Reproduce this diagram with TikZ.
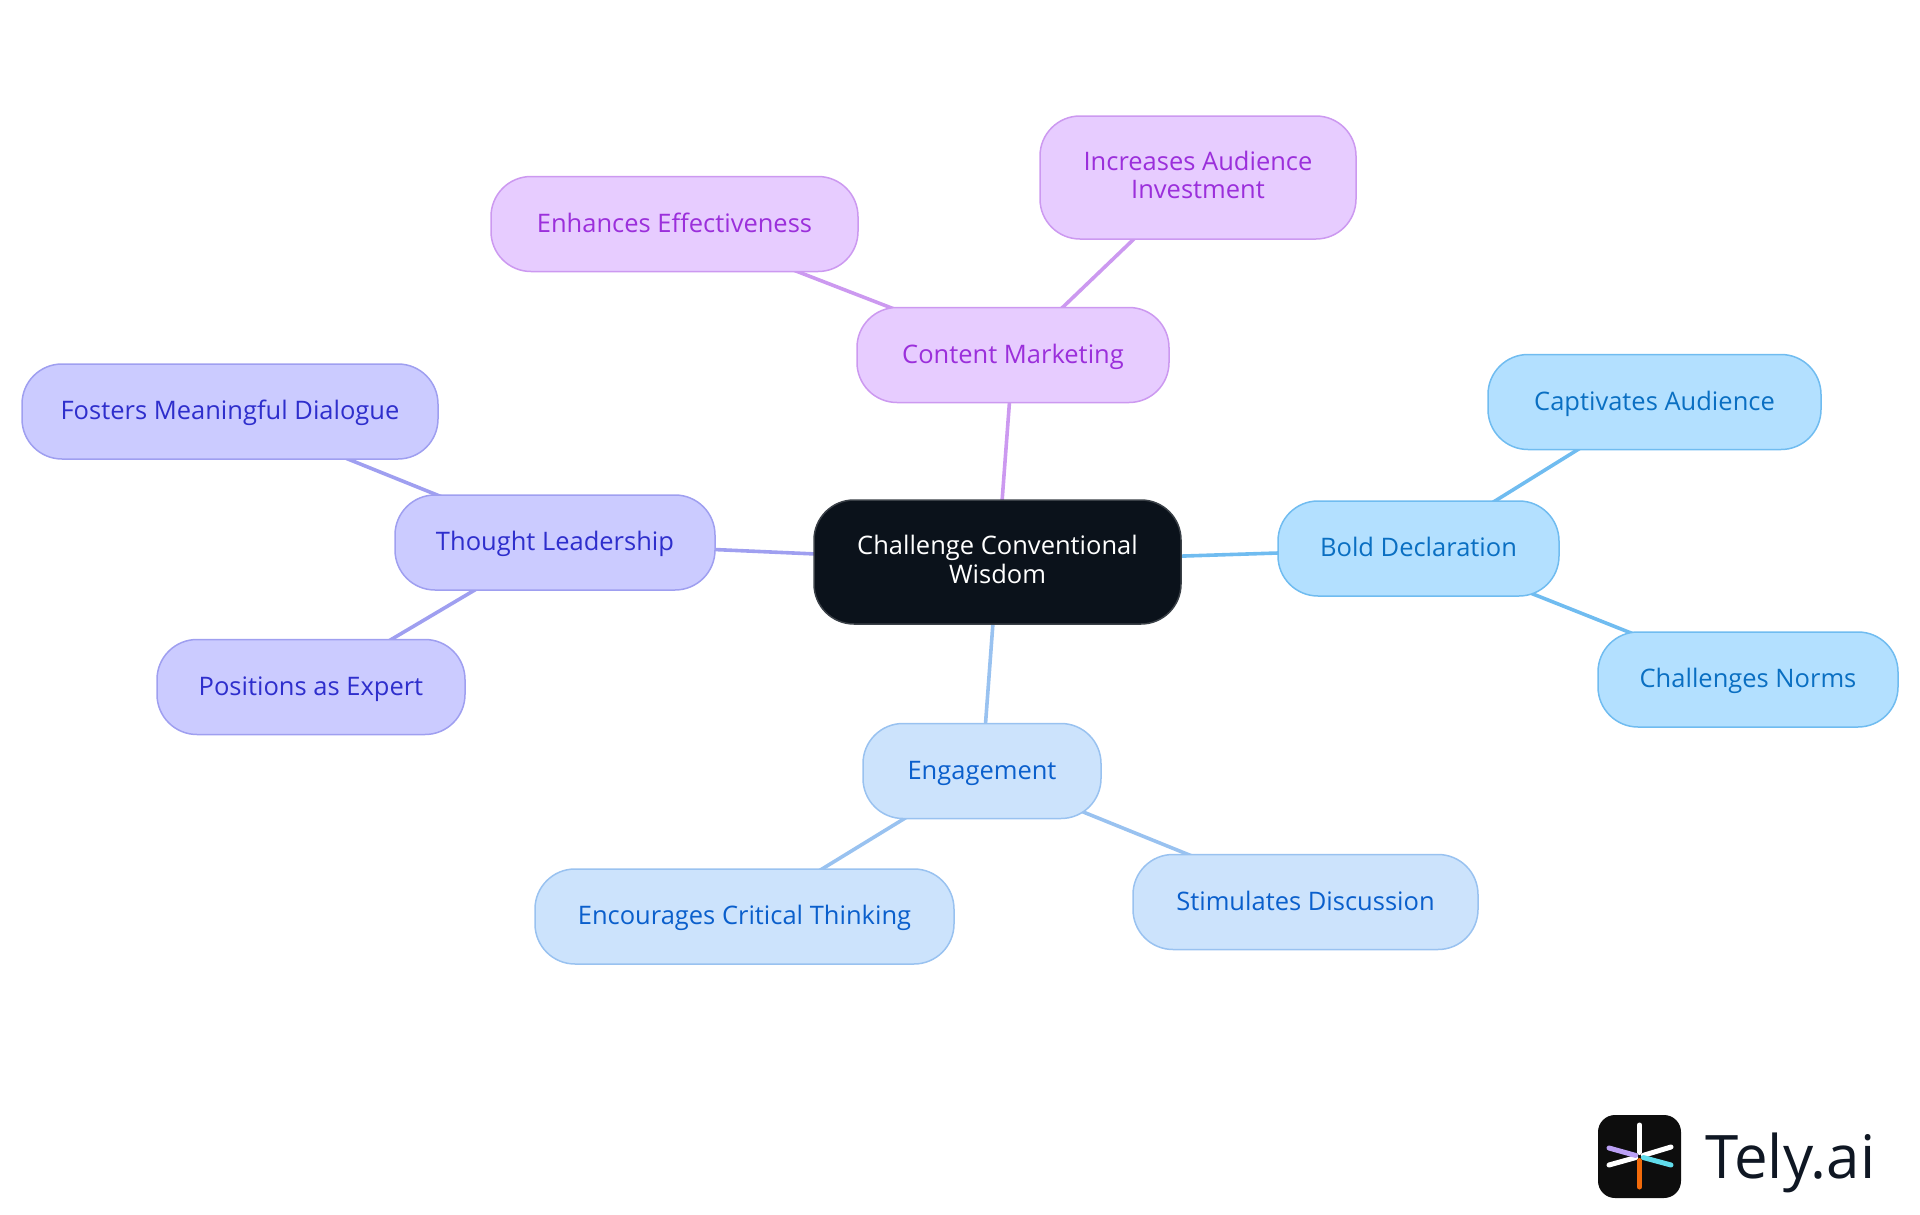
\documentclass[tikz,border=0pt]{standalone}
\usepackage{fontspec}
\setmainfont{Open Sans}
\usepackage{tikz}
\usetikzlibrary{backgrounds}

\definecolor{rootfill}{HTML}{0B121B}
\definecolor{rootline}{HTML}{3A4047}
\definecolor{plumfill}{HTML}{E7CCFF}
\definecolor{plumline}{HTML}{CC99F0}
\definecolor{plumtext}{HTML}{9B2FDB}
\definecolor{indigofill}{HTML}{CBCBFF}
\definecolor{indigoline}{HTML}{9F9FF0}
\definecolor{indigotext}{HTML}{2E2ECC}
\definecolor{skyfill}{HTML}{B3E0FF}
\definecolor{skyline}{HTML}{70BCF0}
\definecolor{skytext}{HTML}{0A6FC2}
\definecolor{bluefill}{HTML}{CCE3FC}
\definecolor{blueline}{HTML}{99C2F0}
\definecolor{bluetext}{HTML}{0A5FCC}
\definecolor{logotext}{HTML}{0F1723}
\definecolor{logoviolet}{HTML}{BBA0F5}
\definecolor{logocyan}{HTML}{60DCEB}
\definecolor{logoorange}{HTML}{F26A0A}

\begin{document}
\begin{tikzpicture}[x=1pt, y=-1pt]
\tikzstyle{idea} = [rectangle, rounded corners=40pt, line width=1.5pt, align=center, inner sep=0pt, minimum height=95pt, text height=20pt, text depth=4pt, font=\fontsize{25.5}{28.3}\selectfont]
\tikzstyle{twolines} = [text height=46pt, text depth=4pt]
\tikzstyle{root} = [idea, fill=rootfill, draw=rootline, text=white, minimum height=124pt]
\tikzstyle{plum} = [idea, fill=plumfill, draw=plumline, text=plumtext]
\tikzstyle{indigo} = [idea, fill=indigofill, draw=indigoline, text=indigotext]
\tikzstyle{sky} = [idea, fill=skyfill, draw=skyline, text=skytext]
\tikzstyle{pale} = [idea, fill=bluefill, draw=blueline, text=bluetext]
\tikzstyle{link} = [line width=3.6pt]
\useasboundingbox (0, 0) rectangle (1920, 1215);

\node [root, twolines, minimum width=367pt] (wisdom) at (997.5, 562) {Challenge Conventional\\Wisdom};

\node [plum, minimum width=312pt] (content) at (1013, 355) {Content Marketing};
\node [plum, minimum width=367pt] (enhances) at (674.5, 224) {Enhances Effectiveness};
\node [plum, twolines, minimum width=316pt, minimum height=123pt] (increases) at (1198, 177.5) {Increases Audience\\Investment};

\node [indigo, minimum width=320pt] (thought) at (555, 542.5) {Thought Leadership};
\node [indigo, minimum width=416pt] (fosters) at (230, 411.5) {Fosters Meaningful Dialogue};
\node [indigo, minimum width=308pt] (positions) at (311, 687) {Positions as Expert};

\node [sky, minimum width=281pt] (bold) at (1418.5, 548.5) {Bold Declaration};
\node [sky, minimum width=333pt] (captivates) at (1654.5, 402) {Captivates Audience};
\node [sky, minimum width=300pt] (challenges) at (1748, 679.5) {Challenges Norms};

\node [pale, minimum width=238pt] (engagement) at (982, 771) {Engagement};
\node [pale, minimum width=419pt] (encourages) at (744.5, 916.5) {Encourages Critical Thinking};
\node [pale, minimum width=345pt] (stimulates) at (1305.5, 902) {Stimulates Discussion};

\begin{scope}[on background layer]
\draw [link, plumline] (wisdom.center) -- (content.center);
\draw [link, plumline] (content.center) -- (enhances.center);
\draw [link, plumline] (content.center) -- (increases.center);
\draw [link, indigoline] (wisdom.center) -- (thought.center);
\draw [link, indigoline] (thought.center) -- (fosters.center);
\draw [link, indigoline] (thought.center) -- (positions.center);
\draw [link, skyline] (wisdom.center) -- (bold.center);
\draw [link, skyline] (bold.center) -- (captivates.center);
\draw [link, skyline] (bold.center) -- (challenges.center);
\draw [link, blueline] (wisdom.center) -- (engagement.center);
\draw [link, blueline] (engagement.center) -- (encourages.center);
\draw [link, blueline] (engagement.center) -- (stimulates.center);
\end{scope}

% logo
\node [rectangle, rounded corners=17pt, fill=black!95, minimum width=83pt, minimum height=83pt, inner sep=0pt] (badge) at (1639.5, 1156.5) {};
\coordinate (hub) at (badge.center);
\foreach \tipx/\tipy/\shade in {1639.5/1125/white, 1671/1147/white, 1609/1165/white, 1609/1148/logoviolet, 1671/1165/logocyan, 1639.5/1187/logoorange}
\draw [line width=5pt, line cap=round, color=\shade, shorten >=4pt] (\tipx, \tipy) -- (hub);
\node [anchor=base west, inner sep=0pt, text=logotext, font=\fontsize{60}{60}\selectfont] (brand) at (1705, 1178) {Tely.ai};
\end{tikzpicture}
\end{document}
